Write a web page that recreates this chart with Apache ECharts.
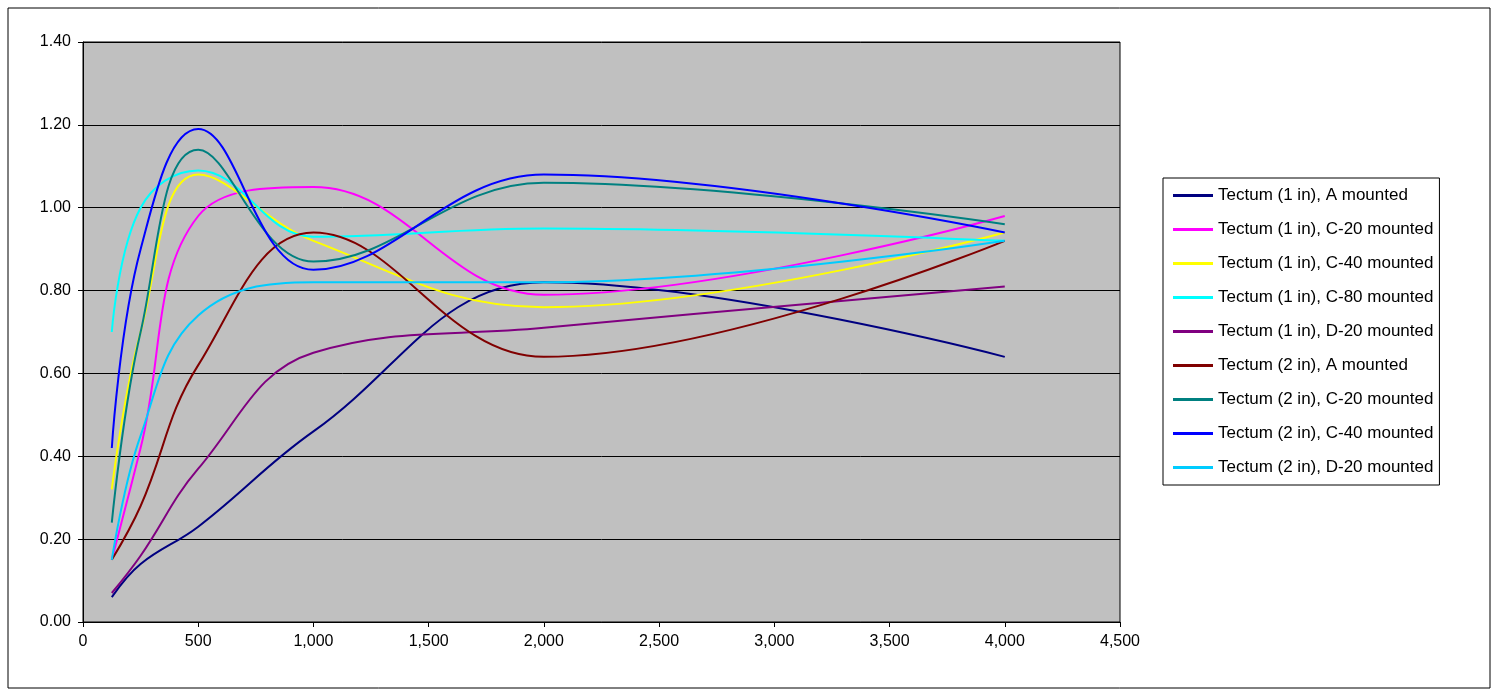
<!DOCTYPE html>
<html><head><meta charset="utf-8">
<script src="https://cdn.jsdelivr.net/npm/echarts@6/dist/echarts.min.js"></script>
<style>html,body{margin:0;padding:0;background:#fff}#c{width:1500px;height:696px}</style>
</head><body><div id="c"></div>
<script>
const freqs = [125, 250, 500, 1000, 2000, 4000];
const names = ["Tectum (1 in), A mounted","Tectum (1 in), C-20 mounted","Tectum (1 in), C-40 mounted","Tectum (1 in), C-80 mounted","Tectum (1 in), D-20 mounted","Tectum (2 in), A mounted","Tectum (2 in), C-20 mounted","Tectum (2 in), C-40 mounted","Tectum (2 in), D-20 mounted"];
const colors = ["#000080","#ff00ff","#ffff00","#00ffff","#800080","#800000","#008080","#0000ff","#00ccff"];
const s1 = [0.06,0.14,0.23,0.46,0.82,0.64];
const s2 = [0.15,0.42,0.98,1.05,0.79,0.98];
const s3 = [0.32,0.70,1.08,0.92,0.76,0.94];
const s4 = [0.70,1.00,1.09,0.93,0.95,0.92];
const s5 = [0.07,0.16,0.37,0.65,0.71,0.81];
const s6 = [0.15,0.28,0.62,0.94,0.64,0.92];
const s7 = [0.24,0.70,1.14,0.87,1.06,0.96];
const s8 = [0.42,0.90,1.19,0.85,1.08,0.94];
const s9 = [0.15,0.45,0.74,0.82,0.82,0.92];
const all = [s1,s2,s3,s4,s5,s6,s7,s8,s9];
const chart = echarts.init(document.getElementById('c'));
const font = {fontFamily:'Liberation Sans, Arial', fontSize:16, color:'#000'};
chart.setOption({
  animation:false,
  graphic:[{type:'rect',shape:{x:8,y:8,width:1482,height:680},style:{fill:'none',stroke:'#000',lineWidth:1}}],
  grid:{left:83,top:42,width:1037,height:580,show:true,backgroundColor:'#c0c0c0',borderColor:'#000',borderWidth:1},
  xAxis:{type:'value',min:0,max:4500,interval:500,axisLine:{lineStyle:{color:'#000'}},axisTick:{lineStyle:{color:'#000'}},splitLine:{show:false},axisLabel:Object.assign({margin:12},font)},
  yAxis:{type:'value',min:0,max:1.4,interval:0.2,axisLine:{show:true,lineStyle:{color:'#000'}},axisTick:{show:true,lineStyle:{color:'#000'}},splitLine:{lineStyle:{color:'#000'}},axisLabel:Object.assign({margin:12,formatter:v=>v.toFixed(2)},font)},
  legend:{orient:'vertical',left:1163,top:178,width:320,itemWidth:40,itemHeight:3,itemGap:17,padding:[9,6,9,10],borderColor:'#000',borderWidth:1,backgroundColor:'#fff',icon:'rect',textStyle:Object.assign({},font,{fontSize:17}),data:names},
  series: all.map((d,i)=>({name:names[i],type:'line',smooth:0.4,showSymbol:false,symbol:'none',data:freqs.map((f,j)=>[f,d[j]]),lineStyle:{color:colors[i],width:2},itemStyle:{color:colors[i]}}))
});
</script></body></html>
